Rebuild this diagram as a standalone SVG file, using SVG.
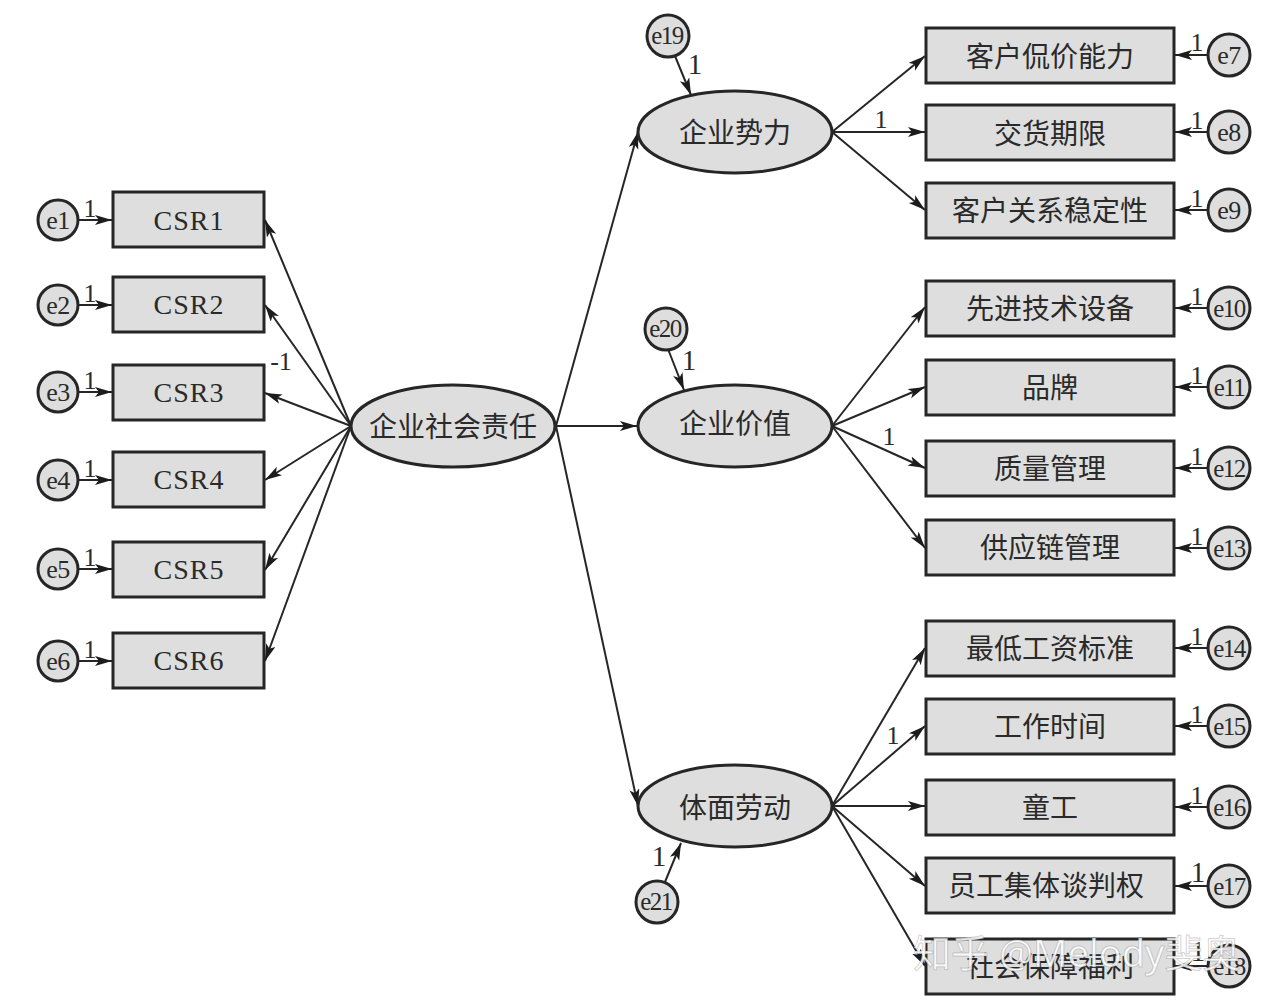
<svg xmlns="http://www.w3.org/2000/svg" width="1270" height="1008" viewBox="0 0 1270 1008">
<style>
.b{fill:#dedede;stroke:#262626;stroke-width:3}
.c{fill:#dedede;stroke:#262626;stroke-width:3}
.e{fill:#dedede;stroke:#262626;stroke-width:3}
.l{fill:none;stroke:#262626;stroke-width:2;marker-end:url(#a)}
text{fill:#2a2a2a;text-anchor:middle}
.z{font:28px "Noto Sans CJK SC","Liberation Serif",serif}
.s{font:28px "Liberation Serif",serif;letter-spacing:1px}
.t{font:26px "Liberation Serif",serif;letter-spacing:-.5px}
.tt{font:25px "Liberation Serif",serif;letter-spacing:-1.5px}
.n{font:26px "Liberation Serif",serif}
.m{font:29px "Liberation Serif",serif}
.w{font:38px "Noto Sans","Noto Sans CJK SC",sans-serif;fill:#fff;fill-opacity:.88;stroke:#666;stroke-opacity:.3;stroke-width:1;text-anchor:start}
</style>
<defs><marker id="a" markerUnits="userSpaceOnUse" markerWidth="20" markerHeight="12" refX="17" refY="5" orient="auto"><path d="M0 0L17 5L0 10L4 5Z" fill="#1c1c1c"/></marker></defs>
<g id="connectors">
<path class="l" d="M79 220H112"/><path class="l" d="M79 305H112"/><path class="l" d="M79 392H112"/><path class="l" d="M79 480H112"/><path class="l" d="M79 569H112"/><path class="l" d="M79 661H112"/>
<path class="l" d="M351 426L265 220"/><path class="l" d="M351 426L265 305"/><path class="l" d="M351 426L265 393"/><path class="l" d="M351 426L265 480"/><path class="l" d="M351 426L265 570"/><path class="l" d="M351 426L265 661"/>
<path class="l" d="M556 426L638 132"/><path class="l" d="M556 426H637"/><path class="l" d="M556 426L638 806"/>
<path class="l" d="M675 56L691 95"/><path class="l" d="M668 349L684 390"/><path class="l" d="M665 882L681 843"/>
<path class="l" d="M832 132L925 56"/><path class="l" d="M832 132H925"/><path class="l" d="M832 132L925 210"/>
<path class="l" d="M832 426L925 307"/><path class="l" d="M832 426L925 387"/><path class="l" d="M832 426L925 468"/><path class="l" d="M832 426L925 548"/>
<path class="l" d="M832 806L925 648"/><path class="l" d="M832 806L925 726"/><path class="l" d="M832 806H925"/><path class="l" d="M832 806L925 886"/><path class="l" d="M832 806L925 966"/>
<path class="l" d="M1208 55H1175"/><path class="l" d="M1208 132H1175"/><path class="l" d="M1208 210H1175"/><path class="l" d="M1208 308H1175"/><path class="l" d="M1208 387H1175"/><path class="l" d="M1208 468H1175"/><path class="l" d="M1208 548H1175"/><path class="l" d="M1208 648H1175"/><path class="l" d="M1208 726H1175"/><path class="l" d="M1208 807H1175"/><path class="l" d="M1208 886H1175"/><path class="l" d="M1208 966H1175"/>
</g>
<g id="edge-labels">
<text class="n" x="90" y="217">1</text><text class="n" x="90" y="302">1</text><text class="n" x="90" y="389">1</text><text class="n" x="90" y="477">1</text><text class="n" x="90" y="566">1</text><text class="n" x="90" y="658">1</text>
<text class="n" x="281" y="370">-1</text>
<text class="n" x="881" y="128">1</text><text class="n" x="889" y="445">1</text><text class="n" x="893" y="744">1</text>
<text class="m" x="695" y="74">1</text><text class="m" x="689" y="370">1</text><text class="m" x="659" y="866">1</text>
<text class="n" x="1197" y="51">1</text><text class="n" x="1197" y="129">1</text><text class="n" x="1197" y="207">1</text><text class="n" x="1197" y="305">1</text><text class="n" x="1197" y="384">1</text><text class="n" x="1197" y="465">1</text><text class="n" x="1197" y="545">1</text><text class="n" x="1197" y="645">1</text><text class="n" x="1197" y="723">1</text><text class="n" x="1197" y="804">1</text><text class="m" x="1198" y="882">1</text><text class="m" x="1198" y="961">1</text>
</g>
<g id="CSR1"><rect class="b" x="113" y="192" width="151" height="55"/><text class="s" x="189" y="230">CSR1</text></g>
<g id="CSR2"><rect class="b" x="113" y="277" width="151" height="55"/><text class="s" x="189" y="314">CSR2</text></g>
<g id="CSR3"><rect class="b" x="113" y="365" width="151" height="55"/><text class="s" x="189" y="402">CSR3</text></g>
<g id="CSR4"><rect class="b" x="113" y="452" width="151" height="55"/><text class="s" x="189" y="489">CSR4</text></g>
<g id="CSR5"><rect class="b" x="113" y="542" width="151" height="55"/><text class="s" x="189" y="579">CSR5</text></g>
<g id="CSR6"><rect class="b" x="113" y="633" width="151" height="55"/><text class="s" x="189" y="670">CSR6</text></g>
<g id="e1"><circle class="c" cx="58" cy="220" r="20"/><text class="t" x="58" y="229">e1</text></g>
<g id="e2"><circle class="c" cx="58" cy="305" r="20"/><text class="t" x="58" y="314">e2</text></g>
<g id="e3"><circle class="c" cx="58" cy="392" r="20"/><text class="t" x="58" y="401">e3</text></g>
<g id="e4"><circle class="c" cx="58" cy="480" r="20"/><text class="t" x="58" y="489">e4</text></g>
<g id="e5"><circle class="c" cx="58" cy="569" r="20"/><text class="t" x="58" y="578">e5</text></g>
<g id="e6"><circle class="c" cx="58" cy="661" r="20"/><text class="t" x="58" y="670">e6</text></g>
<g id="n-csr"><ellipse class="e" cx="453" cy="426" rx="102" ry="41"/><text class="z" x="453" y="437">企业社会责任</text></g>
<g id="n-power"><ellipse class="e" cx="735" cy="132" rx="97" ry="41"/><text class="z" x="735" y="143">企业势力</text></g>
<g id="n-value"><ellipse class="e" cx="735" cy="426" rx="97" ry="41"/><text class="z" x="735" y="434">企业价值</text></g>
<g id="n-labor"><ellipse class="e" cx="735" cy="806" rx="97" ry="41"/><text class="z" x="735" y="818">体面劳动</text></g>
<g id="e19"><circle class="c" cx="668" cy="36" r="21"/><text class="tt" x="667" y="44">e19</text></g>
<g id="e20"><circle class="c" cx="666" cy="329" r="21"/><text class="tt" x="665" y="337">e20</text></g>
<g id="e21"><circle class="c" cx="657" cy="902" r="21"/><text class="tt" x="656" y="910">e21</text></g>
<g id="r1"><rect class="b" x="926" y="28" width="248" height="55"/><text class="z" x="1050" y="67">客户侃价能力</text></g>
<g id="r2"><rect class="b" x="926" y="105" width="248" height="55"/><text class="z" x="1050" y="144">交货期限</text></g>
<g id="r3"><rect class="b" x="926" y="183" width="248" height="55"/><text class="z" x="1050" y="221">客户关系稳定性</text></g>
<g id="r4"><rect class="b" x="926" y="281" width="248" height="55"/><text class="z" x="1050" y="319">先进技术设备</text></g>
<g id="r5"><rect class="b" x="926" y="360" width="248" height="55"/><text class="z" x="1050" y="398">品牌</text></g>
<g id="r6"><rect class="b" x="926" y="441" width="248" height="55"/><text class="z" x="1050" y="479">质量管理</text></g>
<g id="r7"><rect class="b" x="926" y="520" width="248" height="55"/><text class="z" x="1050" y="558">供应链管理</text></g>
<g id="r8"><rect class="b" x="926" y="621" width="248" height="55"/><text class="z" x="1050" y="659">最低工资标准</text></g>
<g id="r9"><rect class="b" x="926" y="699" width="248" height="55"/><text class="z" x="1050" y="737">工作时间</text></g>
<g id="r10"><rect class="b" x="926" y="780" width="248" height="55"/><text class="z" x="1050" y="818">童工</text></g>
<g id="r11"><rect class="b" x="926" y="858" width="248" height="55"/><text class="z" x="1046" y="896">员工集体谈判权</text></g>
<g id="r12"><rect class="b" x="926" y="939" width="248" height="55"/><text class="z" x="1050" y="977">社会保障福利</text></g>
<g id="e7"><circle class="c" cx="1229" cy="55" r="21"/><text class="t" x="1229" y="64">e7</text></g>
<g id="e8"><circle class="c" cx="1229" cy="132" r="21"/><text class="t" x="1229" y="141">e8</text></g>
<g id="e9"><circle class="c" cx="1229" cy="210" r="21"/><text class="t" x="1229" y="219">e9</text></g>
<g id="e10"><circle class="c" cx="1229" cy="308" r="21"/><text class="tt" x="1229" y="317">e10</text></g>
<g id="e11"><circle class="c" cx="1229" cy="387" r="21"/><text class="tt" x="1229" y="396">e11</text></g>
<g id="e12"><circle class="c" cx="1229" cy="468" r="21"/><text class="tt" x="1229" y="477">e12</text></g>
<g id="e13"><circle class="c" cx="1229" cy="548" r="21"/><text class="tt" x="1229" y="557">e13</text></g>
<g id="e14"><circle class="c" cx="1229" cy="648" r="21"/><text class="tt" x="1229" y="657">e14</text></g>
<g id="e15"><circle class="c" cx="1229" cy="726" r="21"/><text class="tt" x="1229" y="735">e15</text></g>
<g id="e16"><circle class="c" cx="1229" cy="807" r="21"/><text class="tt" x="1229" y="816">e16</text></g>
<g id="e17"><circle class="c" cx="1229" cy="886" r="21"/><text class="tt" x="1229" y="895">e17</text></g>
<g id="e18"><circle class="c" cx="1229" cy="966" r="21"/><text class="tt" x="1229" y="975">e18</text></g>
<text class="w" x="913" y="967">知乎 @Melody斐奥</text>
</svg>
